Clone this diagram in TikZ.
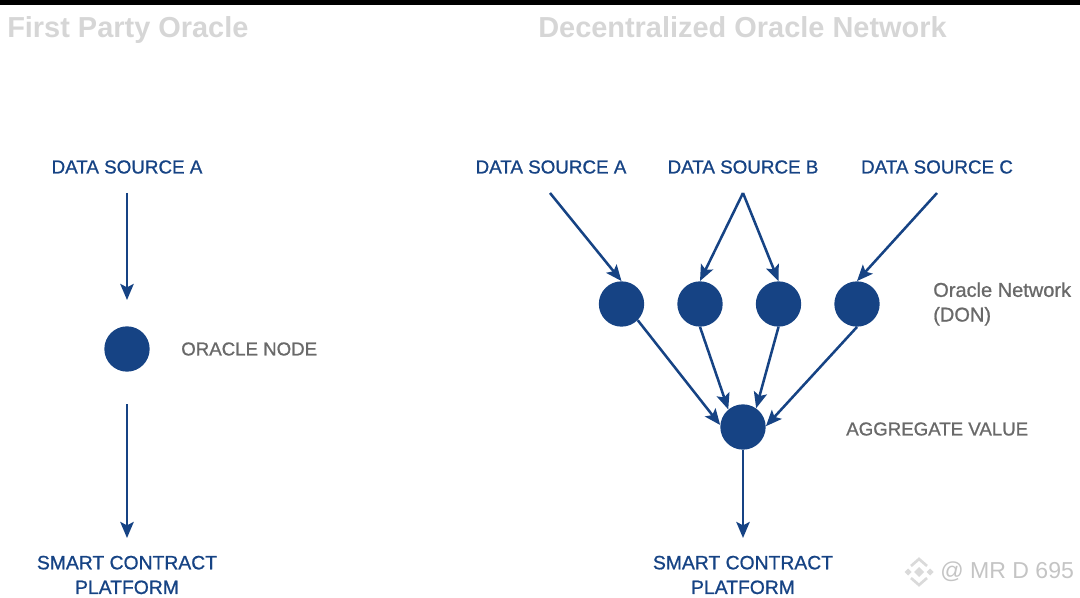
\documentclass[tikz,border=0pt]{standalone}
\usepackage{fontspec}
\setmainfont{Liberation Sans}
\newfontfamily\mediumfont[FakeBold=0.9]{Liberation Sans}
\usepackage{tikz}
\usetikzlibrary{arrows.meta}
\definecolor{donblue}{RGB}{22,67,132}
\definecolor{labelgrey}{RGB}{105,105,105}
\definecolor{titlegrey}{RGB}{214,214,214}
\definecolor{markgrey}{RGB}{218,218,218}

\begin{document}
\begin{tikzpicture}[x=0.75pt,y=-0.75pt,>={Stealth[length=12pt,width=10pt,inset=2.5pt]},
  flow/.style={->,draw=donblue,line width=1.9pt},
  main node/.style={circle,fill=donblue,draw=none,minimum size=34pt,inner sep=0pt},
  source/.style={font=\mediumfont\fontsize{14.1pt}{18.5pt}\selectfont,text=donblue,align=center},
  platform/.style={source,font=\mediumfont\fontsize{14.5pt}{18.5pt}\selectfont},
  side label/.style={font=\mediumfont\fontsize{14pt}{18.5pt}\selectfont,text=labelgrey,align=left,anchor=west,inner sep=0pt},
  title/.style={font=\fontsize{21.7pt}{24pt}\selectfont\bfseries,text=titlegrey,anchor=base west,inner sep=0pt}]
  \useasboundingbox (0,0) rectangle (1080,598);
  \fill[black] (0,0) rectangle (1080,5);

  \node[title] (t1) at (7,37.5) {First Party Oracle};
  \node[title] (t2) at (538,37.5) {Decentralized Oracle Network};

  % first party
  \node[source] (a0) at (127,167) {DATA SOURCE A};
  \node[main node] (o0) at (127,349) {};
  \node[side label] (l0) at (181,349) {ORACLE NODE};
  \node[platform] (p0) at (127,575) {SMART CONTRACT\\PLATFORM};
  \coordinate (a0s) at (127,193);
  \coordinate (a0e) at (127,300);
  \coordinate (o0s) at (127,404);
  \coordinate (p0e) at (127,538);

  % network
  \node[source] (a1) at (551,167) {DATA SOURCE A};
  \node[source] (b1) at (743,167) {DATA SOURCE B};
  \node[source] (c1) at (937,167) {DATA SOURCE C};
  \node[main node] (n1) at (621.5,304) {};
  \node[main node] (n2) at (700,304) {};
  \node[main node] (n3) at (778.5,304) {};
  \node[main node] (n4) at (857,304) {};
  \node[main node] (agg) at (743,427) {};
  \node[side label,font=\mediumfont\fontsize{15pt}{18.5pt}\selectfont] (l1) at (933,304) {Oracle Network\\(DON)};
  \node[side label] (l2) at (846,429) {AGGREGATE VALUE};
  \node[platform] (p1) at (743,575) {SMART CONTRACT\\PLATFORM};
  \coordinate (a1s) at (550,193);
  \coordinate (b1s) at (743,193);
  \coordinate (c1s) at (937,193);
  \coordinate (p1e) at (743,538);

  \draw[flow] (a0s) -- (a0e);
  \draw[flow] (o0s) -- (p0e);
  \draw[flow] (a1s) -- (n1.north);
  \draw[flow] (b1s) -- (n2.north);
  \draw[flow] (b1s) -- (n3.north);
  \draw[flow] (c1s) -- (n4.north);
  \draw[flow] (n1.south east) -- (agg.175);
  \draw[flow] (n2.south) -- (agg.130);
  \draw[flow] (n3.south) -- (agg.55);
  \draw[flow] (n4.south) -- (agg.2);
  \draw[flow] (agg.south) -- (p1e);

  % watermark
  \node[font=\fontsize{17.3pt}{20pt}\selectfont,text=markgrey!90!black,anchor=west,inner sep=0pt] (w1) at (940,572) {@ MR D 695};
  \draw[markgrey,line width=2pt] (911,566) -- (919,559) -- (927,566);
  \draw[markgrey,line width=2pt] (911,578) -- (919,585) -- (927,578);
  \foreach \px/\ps in {908/3.5,919/5,930/3.5} {
    \fill[markgrey] (\px-\ps,572) -- (\px,572-\ps) -- (\px+\ps,572) -- (\px,572+\ps) -- cycle;
  }
\end{tikzpicture}
\end{document}
